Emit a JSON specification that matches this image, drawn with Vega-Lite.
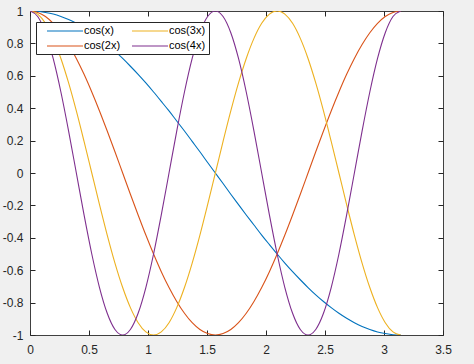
{
  "$schema": "https://vega.github.io/schema/vega-lite/v6.json",
  "width": 413,
  "height": 324,
  "autosize": "none",
  "padding": {"left": 30, "top": 11, "right": 31, "bottom": 29},
  "background": "#f0f0f0",
  "config": {
    "view": {"fill": "white", "stroke": "#404040", "strokeWidth": 1},
    "font": "Liberation Sans",
    "axis": {"grid": false, "domain": false, "tickSize": -5, "tickColor": "#262626", "labelColor": "#262626", "labelFont": "Liberation Sans", "labelFontSize": 12, "title": null}
  },
  "data": {"values": [
    {"s":"cos(x)","x":0,"y":1},{"s":"cos(x)","x":0.0654,"y":0.998},{"s":"cos(x)","x":0.1309,"y":0.991},{"s":"cos(x)","x":0.1963,"y":0.981},{"s":"cos(x)","x":0.2618,"y":0.966},{"s":"cos(x)","x":0.3272,"y":0.947},{"s":"cos(x)","x":0.3927,"y":0.924},{"s":"cos(x)","x":0.4581,"y":0.897},{"s":"cos(x)","x":0.5236,"y":0.866},{"s":"cos(x)","x":0.589,"y":0.831},{"s":"cos(x)","x":0.6545,"y":0.793},{"s":"cos(x)","x":0.7199,"y":0.752},{"s":"cos(x)","x":0.7854,"y":0.707},{"s":"cos(x)","x":0.8508,"y":0.659},{"s":"cos(x)","x":0.9163,"y":0.609},{"s":"cos(x)","x":0.9817,"y":0.556},{"s":"cos(x)","x":1.0472,"y":0.5},{"s":"cos(x)","x":1.1126,"y":0.442},{"s":"cos(x)","x":1.1781,"y":0.383},{"s":"cos(x)","x":1.2435,"y":0.321},{"s":"cos(x)","x":1.309,"y":0.259},{"s":"cos(x)","x":1.3744,"y":0.195},{"s":"cos(x)","x":1.4399,"y":0.131},{"s":"cos(x)","x":1.5053,"y":0.065},{"s":"cos(x)","x":1.5708,"y":0},{"s":"cos(x)","x":1.6362,"y":-0.065},{"s":"cos(x)","x":1.7017,"y":-0.131},{"s":"cos(x)","x":1.7671,"y":-0.195},{"s":"cos(x)","x":1.8326,"y":-0.259},{"s":"cos(x)","x":1.898,"y":-0.321},{"s":"cos(x)","x":1.9635,"y":-0.383},{"s":"cos(x)","x":2.0289,"y":-0.442},{"s":"cos(x)","x":2.0944,"y":-0.5},{"s":"cos(x)","x":2.1598,"y":-0.556},{"s":"cos(x)","x":2.2253,"y":-0.609},{"s":"cos(x)","x":2.2907,"y":-0.659},{"s":"cos(x)","x":2.3562,"y":-0.707},{"s":"cos(x)","x":2.4216,"y":-0.752},{"s":"cos(x)","x":2.4871,"y":-0.793},{"s":"cos(x)","x":2.5525,"y":-0.831},{"s":"cos(x)","x":2.618,"y":-0.866},{"s":"cos(x)","x":2.6834,"y":-0.897},{"s":"cos(x)","x":2.7489,"y":-0.924},{"s":"cos(x)","x":2.8143,"y":-0.947},{"s":"cos(x)","x":2.8798,"y":-0.966},{"s":"cos(x)","x":2.9452,"y":-0.981},{"s":"cos(x)","x":3.0107,"y":-0.991},{"s":"cos(x)","x":3.0761,"y":-0.998},{"s":"cos(x)","x":3.1416,"y":-1},
    {"s":"cos(2x)","x":0,"y":1},{"s":"cos(2x)","x":0.0654,"y":0.991},{"s":"cos(2x)","x":0.1309,"y":0.966},{"s":"cos(2x)","x":0.1963,"y":0.924},{"s":"cos(2x)","x":0.2618,"y":0.866},{"s":"cos(2x)","x":0.3272,"y":0.793},{"s":"cos(2x)","x":0.3927,"y":0.707},{"s":"cos(2x)","x":0.4581,"y":0.609},{"s":"cos(2x)","x":0.5236,"y":0.5},{"s":"cos(2x)","x":0.589,"y":0.383},{"s":"cos(2x)","x":0.6545,"y":0.259},{"s":"cos(2x)","x":0.7199,"y":0.131},{"s":"cos(2x)","x":0.7854,"y":0},{"s":"cos(2x)","x":0.8508,"y":-0.131},{"s":"cos(2x)","x":0.9163,"y":-0.259},{"s":"cos(2x)","x":0.9817,"y":-0.383},{"s":"cos(2x)","x":1.0472,"y":-0.5},{"s":"cos(2x)","x":1.1126,"y":-0.609},{"s":"cos(2x)","x":1.1781,"y":-0.707},{"s":"cos(2x)","x":1.2435,"y":-0.793},{"s":"cos(2x)","x":1.309,"y":-0.866},{"s":"cos(2x)","x":1.3744,"y":-0.924},{"s":"cos(2x)","x":1.4399,"y":-0.966},{"s":"cos(2x)","x":1.5053,"y":-0.991},{"s":"cos(2x)","x":1.5708,"y":-1},{"s":"cos(2x)","x":1.6362,"y":-0.991},{"s":"cos(2x)","x":1.7017,"y":-0.966},{"s":"cos(2x)","x":1.7671,"y":-0.924},{"s":"cos(2x)","x":1.8326,"y":-0.866},{"s":"cos(2x)","x":1.898,"y":-0.793},{"s":"cos(2x)","x":1.9635,"y":-0.707},{"s":"cos(2x)","x":2.0289,"y":-0.609},{"s":"cos(2x)","x":2.0944,"y":-0.5},{"s":"cos(2x)","x":2.1598,"y":-0.383},{"s":"cos(2x)","x":2.2253,"y":-0.259},{"s":"cos(2x)","x":2.2907,"y":-0.131},{"s":"cos(2x)","x":2.3562,"y":0},{"s":"cos(2x)","x":2.4216,"y":0.131},{"s":"cos(2x)","x":2.4871,"y":0.259},{"s":"cos(2x)","x":2.5525,"y":0.383},{"s":"cos(2x)","x":2.618,"y":0.5},{"s":"cos(2x)","x":2.6834,"y":0.609},{"s":"cos(2x)","x":2.7489,"y":0.707},{"s":"cos(2x)","x":2.8143,"y":0.793},{"s":"cos(2x)","x":2.8798,"y":0.866},{"s":"cos(2x)","x":2.9452,"y":0.924},{"s":"cos(2x)","x":3.0107,"y":0.966},{"s":"cos(2x)","x":3.0761,"y":0.991},{"s":"cos(2x)","x":3.1416,"y":1},
    {"s":"cos(3x)","x":0,"y":1},{"s":"cos(3x)","x":0.0654,"y":0.981},{"s":"cos(3x)","x":0.1309,"y":0.924},{"s":"cos(3x)","x":0.1963,"y":0.831},{"s":"cos(3x)","x":0.2618,"y":0.707},{"s":"cos(3x)","x":0.3272,"y":0.556},{"s":"cos(3x)","x":0.3927,"y":0.383},{"s":"cos(3x)","x":0.4581,"y":0.195},{"s":"cos(3x)","x":0.5236,"y":0},{"s":"cos(3x)","x":0.589,"y":-0.195},{"s":"cos(3x)","x":0.6545,"y":-0.383},{"s":"cos(3x)","x":0.7199,"y":-0.556},{"s":"cos(3x)","x":0.7854,"y":-0.707},{"s":"cos(3x)","x":0.8508,"y":-0.831},{"s":"cos(3x)","x":0.9163,"y":-0.924},{"s":"cos(3x)","x":0.9817,"y":-0.981},{"s":"cos(3x)","x":1.0472,"y":-1},{"s":"cos(3x)","x":1.1126,"y":-0.981},{"s":"cos(3x)","x":1.1781,"y":-0.924},{"s":"cos(3x)","x":1.2435,"y":-0.831},{"s":"cos(3x)","x":1.309,"y":-0.707},{"s":"cos(3x)","x":1.3744,"y":-0.556},{"s":"cos(3x)","x":1.4399,"y":-0.383},{"s":"cos(3x)","x":1.5053,"y":-0.195},{"s":"cos(3x)","x":1.5708,"y":0},{"s":"cos(3x)","x":1.6362,"y":0.195},{"s":"cos(3x)","x":1.7017,"y":0.383},{"s":"cos(3x)","x":1.7671,"y":0.556},{"s":"cos(3x)","x":1.8326,"y":0.707},{"s":"cos(3x)","x":1.898,"y":0.831},{"s":"cos(3x)","x":1.9635,"y":0.924},{"s":"cos(3x)","x":2.0289,"y":0.981},{"s":"cos(3x)","x":2.0944,"y":1},{"s":"cos(3x)","x":2.1598,"y":0.981},{"s":"cos(3x)","x":2.2253,"y":0.924},{"s":"cos(3x)","x":2.2907,"y":0.831},{"s":"cos(3x)","x":2.3562,"y":0.707},{"s":"cos(3x)","x":2.4216,"y":0.556},{"s":"cos(3x)","x":2.4871,"y":0.383},{"s":"cos(3x)","x":2.5525,"y":0.195},{"s":"cos(3x)","x":2.618,"y":0},{"s":"cos(3x)","x":2.6834,"y":-0.195},{"s":"cos(3x)","x":2.7489,"y":-0.383},{"s":"cos(3x)","x":2.8143,"y":-0.556},{"s":"cos(3x)","x":2.8798,"y":-0.707},{"s":"cos(3x)","x":2.9452,"y":-0.831},{"s":"cos(3x)","x":3.0107,"y":-0.924},{"s":"cos(3x)","x":3.0761,"y":-0.981},{"s":"cos(3x)","x":3.1416,"y":-1},
    {"s":"cos(4x)","x":0,"y":1},{"s":"cos(4x)","x":0.0654,"y":0.966},{"s":"cos(4x)","x":0.1309,"y":0.866},{"s":"cos(4x)","x":0.1963,"y":0.707},{"s":"cos(4x)","x":0.2618,"y":0.5},{"s":"cos(4x)","x":0.3272,"y":0.259},{"s":"cos(4x)","x":0.3927,"y":0},{"s":"cos(4x)","x":0.4581,"y":-0.259},{"s":"cos(4x)","x":0.5236,"y":-0.5},{"s":"cos(4x)","x":0.589,"y":-0.707},{"s":"cos(4x)","x":0.6545,"y":-0.866},{"s":"cos(4x)","x":0.7199,"y":-0.966},{"s":"cos(4x)","x":0.7854,"y":-1},{"s":"cos(4x)","x":0.8508,"y":-0.966},{"s":"cos(4x)","x":0.9163,"y":-0.866},{"s":"cos(4x)","x":0.9817,"y":-0.707},{"s":"cos(4x)","x":1.0472,"y":-0.5},{"s":"cos(4x)","x":1.1126,"y":-0.259},{"s":"cos(4x)","x":1.1781,"y":0},{"s":"cos(4x)","x":1.2435,"y":0.259},{"s":"cos(4x)","x":1.309,"y":0.5},{"s":"cos(4x)","x":1.3744,"y":0.707},{"s":"cos(4x)","x":1.4399,"y":0.866},{"s":"cos(4x)","x":1.5053,"y":0.966},{"s":"cos(4x)","x":1.5708,"y":1},{"s":"cos(4x)","x":1.6362,"y":0.966},{"s":"cos(4x)","x":1.7017,"y":0.866},{"s":"cos(4x)","x":1.7671,"y":0.707},{"s":"cos(4x)","x":1.8326,"y":0.5},{"s":"cos(4x)","x":1.898,"y":0.259},{"s":"cos(4x)","x":1.9635,"y":0},{"s":"cos(4x)","x":2.0289,"y":-0.259},{"s":"cos(4x)","x":2.0944,"y":-0.5},{"s":"cos(4x)","x":2.1598,"y":-0.707},{"s":"cos(4x)","x":2.2253,"y":-0.866},{"s":"cos(4x)","x":2.2907,"y":-0.966},{"s":"cos(4x)","x":2.3562,"y":-1},{"s":"cos(4x)","x":2.4216,"y":-0.966},{"s":"cos(4x)","x":2.4871,"y":-0.866},{"s":"cos(4x)","x":2.5525,"y":-0.707},{"s":"cos(4x)","x":2.618,"y":-0.5},{"s":"cos(4x)","x":2.6834,"y":-0.259},{"s":"cos(4x)","x":2.7489,"y":0},{"s":"cos(4x)","x":2.8143,"y":0.259},{"s":"cos(4x)","x":2.8798,"y":0.5},{"s":"cos(4x)","x":2.9452,"y":0.707},{"s":"cos(4x)","x":3.0107,"y":0.866},{"s":"cos(4x)","x":3.0761,"y":0.966},{"s":"cos(4x)","x":3.1416,"y":1}
  ]},
  "layer": [
    {
      "mark": {"type": "line", "strokeWidth": 1.1, "interpolate": "monotone", "clip": true},
      "encoding": {
        "x": {"field": "x", "type": "quantitative", "scale": {"domain": [0, 3.5], "nice": false, "zero": false},
              "axis": {"orient": "bottom", "values": [0, 0.5, 1, 1.5, 2, 2.5, 3, 3.5], "format": "~g", "labelPadding": 14, "labelFlush": false}},
        "y": {"field": "y", "type": "quantitative", "scale": {"domain": [-1, 1], "nice": false, "zero": false},
              "axis": {"orient": "left", "values": [-1, -0.8, -0.6, -0.4, -0.2, 0, 0.2, 0.4, 0.6, 0.8, 1], "format": "~g", "labelPadding": 12, "labelFlush": false, "labelExpr": "replace(datum.label, '\u2212', '-')"}},
        "color": {"field": "s", "type": "nominal",
                  "scale": {"domain": ["cos(x)", "cos(3x)", "cos(2x)", "cos(4x)"], "range": ["#0072BD", "#EDB120", "#D95319", "#7E2F8E"]},
                  "legend": {"title": null, "orient": "none", "legendX": 6, "legendY": 11, "columns": 2, "direction": "horizontal",
                             "symbolType": "M-3.6,0H3.6", "symbolSize": 100, "symbolStrokeWidth": 1.1, "symbolOffset": 20,
                             "labelFont": "Liberation Sans", "labelFontSize": 11, "labelColor": "#000000", "labelOffset": 13,
                             "columnPadding": 3, "rowPadding": 4, "padding": 3,
                             "fillColor": "white", "strokeColor": "#262626"}}
      }
    },
    {
      "mark": {"type": "line", "strokeOpacity": 0},
      "encoding": {
        "x": {"field": "x", "type": "quantitative", "axis": {"orient": "top", "values": [0, 0.5, 1, 1.5, 2, 2.5, 3, 3.5], "labels": false}},
        "y": {"field": "y", "type": "quantitative", "axis": {"orient": "right", "values": [-1, -0.8, -0.6, -0.4, -0.2, 0, 0.2, 0.4, 0.6, 0.8, 1], "labels": false}}
      }
    }
  ],
  "resolve": {"axis": {"x": "independent", "y": "independent"}}
}
